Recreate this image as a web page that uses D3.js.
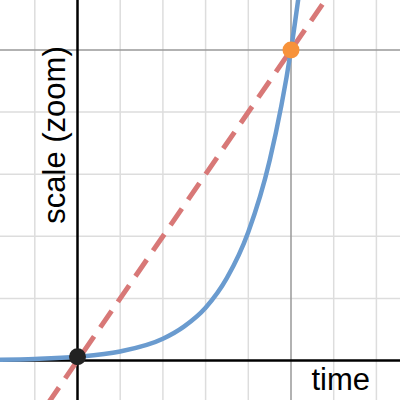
<!DOCTYPE html><html><head><script src="https://cdn.jsdelivr.net/npm/d3@7"></script>
<style>body{margin:0}svg{display:block}</style></head><body><svg width="400" height="400"></svg>
<script>
const curveX=[-1.9,-1,0,1,2,2.5,3,3.5,4,4.5,5,5.2];
const curveY=[0.011,0.025,0.06,0.145,0.35,0.55,0.85,1.33,2.07,3.22,5.0,5.97];
const lineX=[-0.7,6];
const lineY=[-0.7,6];
const dotBlack=[0,0.06];
const dotOrange=[5,5];
const gridX=[-1,1,2,3,4,6,7];
const gridY=[1,2,3,4,6];
const svg=d3.select("svg");
const x=d3.scaleLinear().domain([0,5]).range([77.5,291]);
const y=d3.scaleLinear().domain([0,5]).range([360.5,50]);
svg.append("rect").attr("width",400).attr("height",400).attr("fill","#fff");
const g=svg.append("g");
gridX.forEach(v=>g.append("line").attr("x1",x(v)).attr("x2",x(v)).attr("y1",0).attr("y2",400).attr("stroke","#ddd").attr("stroke-width",1.5));
gridY.forEach(v=>g.append("line").attr("y1",y(v)).attr("y2",y(v)).attr("x1",0).attr("x2",400).attr("stroke","#ddd").attr("stroke-width",1.5));
g.append("line").attr("x1",x(5)).attr("x2",x(5)).attr("y1",0).attr("y2",400).attr("stroke","#999").attr("stroke-width",1.5);
g.append("line").attr("y1",y(5)).attr("y2",y(5)).attr("x1",0).attr("x2",400).attr("stroke","#999").attr("stroke-width",1.5);
g.append("line").attr("x1",x(0)).attr("x2",x(0)).attr("y1",0).attr("y2",400).attr("stroke","#000").attr("stroke-width",2.5);
g.append("line").attr("y1",y(0)).attr("y2",y(0)).attr("x1",0).attr("x2",400).attr("stroke","#000").attr("stroke-width",2.5);
svg.append("path").attr("d",d3.line().x(d=>x(d[0])).y(d=>y(d[1]))(d3.zip(lineX,lineY)))
 .attr("stroke","#d87877").attr("stroke-width",5).attr("stroke-dasharray","20,11").attr("fill","none");
svg.append("path").attr("d",d3.line().curve(d3.curveMonotoneX).x(d=>x(d[0])).y(d=>y(d[1]))(d3.zip(curveX,curveY)))
 .attr("stroke","#6a9bcf").attr("stroke-width",4.5).attr("fill","none");
svg.append("circle").attr("cx",x(dotBlack[0])).attr("cy",y(dotBlack[1])).attr("r",8.5).attr("fill","#222");
svg.append("circle").attr("cx",x(dotOrange[0])).attr("cy",y(dotOrange[1])).attr("r",8.5).attr("fill","#f7923a");
svg.append("text").attr("x",370).attr("y",390).attr("text-anchor","end").attr("font-family","Arial, Liberation Sans").attr("font-size",31).text("time");
svg.append("text").attr("transform","translate(65,135) rotate(-90)").attr("text-anchor","middle").attr("font-family","Arial, Liberation Sans").attr("font-size",31).text("scale (zoom)");
</script></body></html>
